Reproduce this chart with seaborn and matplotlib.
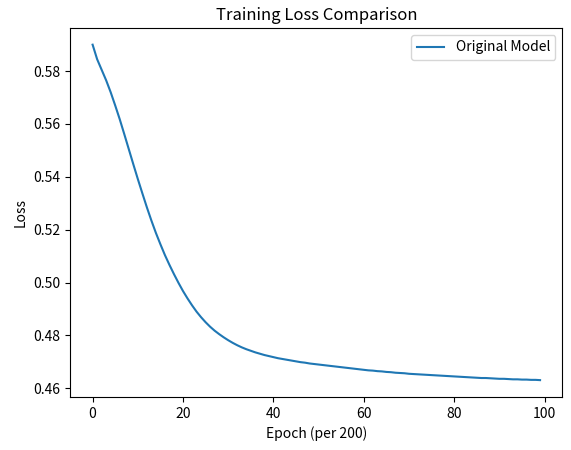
import matplotlib
matplotlib.use("Agg")
import matplotlib.pyplot as plt
import seaborn as sns

epochs = list(range(100))
loss = [
    0.5900, 0.5845, 0.5805, 0.5765, 0.5720, 0.5670, 0.5618, 0.5562, 0.5505, 0.5448,
    0.5392, 0.5338, 0.5285, 0.5235, 0.5188, 0.5145, 0.5104, 0.5067, 0.5032, 0.4999,
    0.4968, 0.4940, 0.4914, 0.4890, 0.4869, 0.4850, 0.4833, 0.4818, 0.4805, 0.4793,
    0.4782, 0.4772, 0.4763, 0.4755, 0.4748, 0.4742, 0.4736, 0.4731, 0.4726, 0.4722,
    0.4718, 0.4714, 0.4711, 0.4708, 0.4705, 0.4702, 0.4699, 0.4697, 0.4694, 0.4692,
    0.4690, 0.4688, 0.4686, 0.4684, 0.4682, 0.4680, 0.4678, 0.4676, 0.4674, 0.4672,
    0.4670, 0.4668, 0.4667, 0.4665, 0.4664, 0.4662, 0.4661, 0.4659, 0.4658, 0.4657,
    0.4655, 0.4654, 0.4653, 0.4652, 0.4651, 0.4650, 0.4649, 0.4648, 0.4647, 0.4646,
    0.4645, 0.4644, 0.4643, 0.4642, 0.4641, 0.4640, 0.4639, 0.4639, 0.4638, 0.4637,
    0.4636, 0.4636, 0.4635, 0.4634, 0.4634, 0.4633, 0.4633, 0.4632, 0.4632, 0.4631,
]

plt.rcParams['font.family'] = ['Noto Sans CJK SC', 'DejaVu Sans']
fig, ax = plt.subplots(figsize=(5.71, 4.5), dpi=100)
sns.lineplot(x=epochs, y=loss, ax=ax, label='Original Model', color='#1f77b4')
ax.set_title('Training Loss Comparison')
ax.set_xlabel('Epoch (per 200)')
ax.set_ylabel('Loss')
ax.legend(loc='upper right')
fig.subplots_adjust(left=0.123, right=0.985, top=0.938, bottom=0.118)
fig.savefig('out.png')
